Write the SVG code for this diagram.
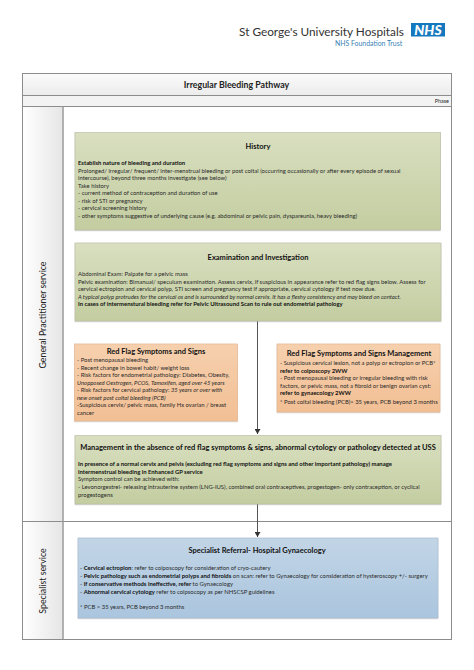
<svg xmlns="http://www.w3.org/2000/svg" width="474" height="670" viewBox="0 0 474 670">
<style>
text{font-family:Lato,"Open Sans",sans-serif;fill:#2a2a2a}
.b{font-size:5.9px}
.h{font-size:7.500px;font-weight:700;fill:#111;text-anchor:middle}
.s{font-weight:700;fill:#111}
.i{font-style:italic}
.box{stroke:#b9bda6;stroke-width:.6;filter:url(#sh)}
.frame{fill:none;stroke:#8c8c8c;stroke-width:1}
.conn{stroke:#555;stroke-width:1;fill:none;marker-end:url(#arr)}
.lane{font-size:8.800px;text-anchor:middle;fill:#222}
</style>
<defs>
<linearGradient id="g" x1="0" y1="0" x2="0" y2="1"><stop offset="0" stop-color="#d9dfc0"/><stop offset="1" stop-color="#c3cda0"/></linearGradient>
<linearGradient id="r" x1="0" y1="0" x2="0" y2="1"><stop offset="0" stop-color="#f6d0ae"/><stop offset="1" stop-color="#f2bf94"/></linearGradient>
<linearGradient id="bl" x1="0" y1="0" x2="0" y2="1"><stop offset="0" stop-color="#c2d5e6"/><stop offset="1" stop-color="#aac5de"/></linearGradient>
<linearGradient id="hd" x1="0" y1="0" x2="0" y2="1"><stop offset="0" stop-color="#fbfbfb"/><stop offset="1" stop-color="#ececec"/></linearGradient>
<linearGradient id="ln" x1="0" y1="0" x2="1" y2="0"><stop offset="0" stop-color="#ffffff"/><stop offset="1" stop-color="#e6e6e6"/></linearGradient>
<filter id="sh" x="-3%" y="-5%" width="106%" height="110%"><feDropShadow dx="0" dy=".6" stdDeviation=".6" flood-color="#888" flood-opacity=".5"/></filter>
<marker id="arr" markerUnits="userSpaceOnUse" markerWidth="6" markerHeight="6" refX="5" refY="3" orient="auto"><path d="M0 0L5 3L0 6Z" fill="#333"/></marker>
</defs>
<rect width="474" height="670" fill="#fff"/>
<g id="logo">
<text x="239" y="36" font-size="11.800" style="fill:#333">St George's University Hospitals</text>
<text x="335" y="45.500" font-size="6.900" style="fill:#3a7fb5">NHS Foundation Trust</text>
<rect x="411" y="23" width="34" height="13.500" fill="#1578be"/>
<text x="428" y="34.500" font-size="14" font-weight="900" font-style="italic" text-anchor="middle" style="fill:#fff">NHS</text>
</g>
<g id="frame">
<rect x="22.500" y="73.500" width="429" height="22" fill="url(#hd)"/>
<rect x="22.500" y="95.500" width="429" height="11" fill="#f3f3f3"/>
<rect x="22.500" y="106.500" width="40" height="415" fill="url(#ln)"/>
<rect x="22.500" y="521.500" width="40" height="118" fill="url(#ln)"/>
<rect class="frame" x="22.500" y="73.500" width="429" height="566"/>
<path class="frame" d="M22.500 95.500H451.500M22.500 106.500H451.500M22.500 521.500H451.500"/>
<path d="M63 106.500V639.500" stroke="#999" stroke-width="1.500"/>
<text x="236.500" y="87.500" font-size="8.800" font-weight="700" text-anchor="middle" style="fill:#222">Irregular Bleeding Pathway</text>
<text x="449" y="103.200" font-size="5.500" text-anchor="end">Phase</text>
</g>
<g id="lane-gp"><text class="lane" transform="translate(46 315) rotate(-90)">General Practitioner service</text></g>
<g id="lane-specialist"><text class="lane" transform="translate(46 581) rotate(-90)">Specialist service</text></g>
<g id="connectors">
<path class="conn" d="M257.500 321V434"/>
<path class="conn" d="M257.500 504V537"/>
</g>
<g id="history">
<rect class="box" x="75" y="132.500" width="365.500" height="97.500" fill="url(#g)"/>
<text class="h" x="258" y="149">History</text>
<text class="b" x="78" y="165"><tspan class="s">Establish nature of bleeding and duration</tspan></text>
<text class="b" x="78" y="172.500">Prolonged/ irregular/ frequent/ inter-menstrual bleeding or post coital (occurring occasionally or after every episode of sexual</text>
<text class="b" x="78" y="180">intercourse), beyond three months investigate (see below)</text>
<text class="b" x="78" y="187.500">Take history</text>
<text class="b" x="78" y="195">- current method of contraception and duration of use</text>
<text class="b" x="78" y="202.500">- risk of STI or pregnancy</text>
<text class="b" x="78" y="210">- cervical screening history</text>
<text class="b" x="78" y="217.500">- other symptoms suggestive of underlying cause (e.g. abdominal or pelvic pain, dyspareunia, heavy bleeding)</text>
</g>
<g id="examination">
<rect class="box" x="75" y="243" width="366" height="78" fill="url(#g)"/>
<text class="h" x="258" y="260">Examination and Investigation</text>
<text class="b" x="78" y="276">Abdominal Exam: Palpate for a pelvic mass</text>
<text class="b" x="78" y="283.500">Pelvic examination: Bimanual/ speculum examination. Assess cervix, if suspicious in appearance refer to red flag signs below. Assess for</text>
<text class="b" x="78" y="291">cervical ectropion and cervical polyp, STI screen and pregnancy test if appropriate, cervical cytology if test now due.</text>
<text class="b i" x="78" y="298.500">A typical polyp protrudes for the cervical os and is surrounded by normal cervix. It has a fleshy consistency and may bleed on contact.</text>
<text class="b s" x="78" y="306">In cases of intermenstural bleeding refer for Pelvic Ultrasound Scan to rule out endometrial pathology</text>
</g>
<g id="red-flag-signs">
<rect class="box" x="74.500" y="344" width="163" height="77" fill="url(#r)" style="stroke:#e5b48c"/>
<text class="h" x="156" y="354">Red Flag Symptoms and Signs</text>
<text class="b" x="77" y="362">- Post menopausal bleeding</text>
<text class="b" x="77" y="369.500">- Recent change in bowel habit/ weight loss</text>
<text class="b" x="77" y="377">- Risk factors for endometrial pathology: Diabetes, Obesity,</text>
<text class="b i" x="77" y="384.500">Unopposed Oestrogen, PCOS, Tamoxifen, aged over 45 years</text>
<text class="b" x="77" y="392">- Risk factors for cervical pathology: <tspan class="i">35 years or over with</tspan></text>
<text class="b i" x="77" y="399.500">new onset post coital bleeding (PCB)</text>
<text class="b" x="77" y="407">-Suspicious cervix/ pelvic mass, family Hx ovarian / breast</text>
<text class="b" x="77" y="415">cancer</text>
</g>
<g id="red-flag-management">
<rect class="box" x="277" y="344" width="163" height="68" fill="url(#r)" style="stroke:#e5b48c"/>
<text class="h" x="359" y="356">Red Flag Symptoms and Signs Management</text>
<text class="b" x="280" y="365">- Suspicious cervical lesion, not a polyp or ectropion or PCB*</text>
<text class="b s" x="280" y="372.500">refer to colposcopy 2WW</text>
<text class="b" x="280" y="380">- Post menopausal bleeding or irregular bleeding with risk</text>
<text class="b" x="280" y="387.500">factors, or pelvic mass, not a fibroid or benign ovarian cyst:</text>
<text class="b s" x="280" y="395">refer to gynaecology 2WW</text>
<text class="b" x="280" y="404">* Post coital bleeding (PCB)&gt; 35 years, PCB beyond 3 months</text>
</g>
<g id="management">
<rect class="box" x="75" y="435.500" width="366" height="68.500" fill="url(#g)"/>
<text class="h" x="258" y="450">Management in the absence of red flag symptoms &amp; signs, abnormal cytology or pathology detected at USS</text>
<text class="b s" x="78" y="466">In presence of a normal cervix and pelvis (excluding red flag symptoms and signs and other important pathology) manage</text>
<text class="b s" x="78" y="473.500">intermenstrual bleeding in Enhanced GP service</text>
<text class="b" x="78" y="481">Symptom control can be achieved with:</text>
<text class="b" x="78" y="489">- Levonorgestrel- releasing intrauterine system (LNG-IUS), combined oral contraceptives, progestogen- only contraception, or cyclical</text>
<text class="b" x="78" y="496.500">progestogens</text>
</g>
<g id="specialist-referral">
<rect class="box" x="78" y="538" width="360" height="80" fill="url(#bl)" style="stroke:#a9bdd0"/>
<text class="h" x="257" y="553">Specialist Referral- Hospital Gynaecology</text>
<text class="b" x="80" y="570">- <tspan class="s">Cervical ectropion</tspan>: refer to colposcopy for consideration of cryo-cautery</text>
<text class="b" x="80" y="578"><tspan>- </tspan><tspan class="s">Pelvic pathology such as endometrial polyps and fibroids</tspan> on scan: refer to Gynaecology for consideration of hysteroscopy +/- surgery</text>
<text class="b" x="80" y="585.500">- <tspan class="s">If conservative methods ineffective, refer</tspan> to Gynaecology</text>
<text class="b" x="80" y="593.500">- <tspan class="s">Abnormal cervical cytology</tspan> refer to colpsocopy as per NHSCSP guidelines</text>
<text class="b" x="80" y="609">* PCB &gt; 35 years, PCB beyond 3 months</text>
</g>
</svg>
